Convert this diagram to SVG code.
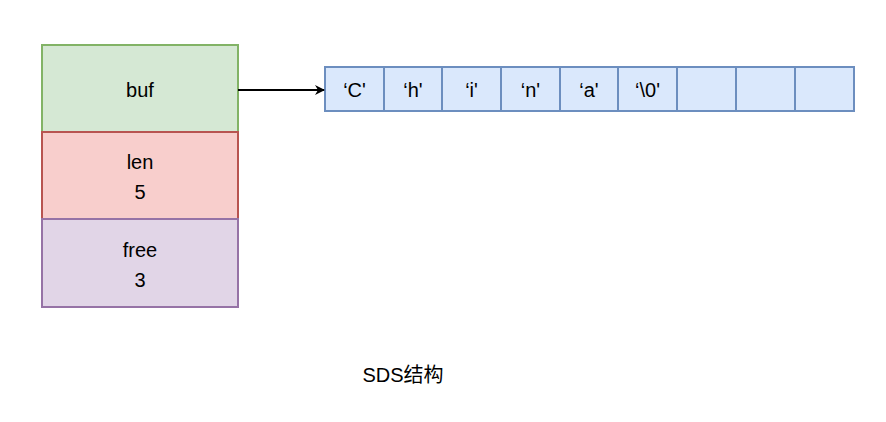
<svg xmlns="http://www.w3.org/2000/svg" width="886" height="422" viewBox="0 0 886 422">
<style>
text{font-family:"Liberation Sans","Noto Sans CJK SC",sans-serif;font-size:20px;fill:#000;text-anchor:middle}
.c{fill:#dae8fc;stroke:#6c8ebf;stroke-width:2}
</style>
<defs><marker id="a" markerWidth="10" markerHeight="10" refX="9" refY="5" orient="auto" markerUnits="userSpaceOnUse"><path d="M0,0 L10,5 L0,10 L3,5 Z" fill="#000"/></marker></defs>
<rect width="886" height="422" fill="#fff"/>
<g id="buf"><rect x="42" y="45" width="196" height="87" fill="#d5e8d4" stroke="#82b366" stroke-width="2"/><text x="140" y="97">buf</text></g>
<g id="len"><rect x="42" y="132" width="196" height="87" fill="#f8cecc" stroke="#b85450" stroke-width="2"/><text x="140" y="169">len</text><text x="140" y="199">5</text></g>
<g id="free"><rect x="42" y="219" width="196" height="88" fill="#e1d5e7" stroke="#9673a6" stroke-width="2"/><text x="140" y="257">free</text><text x="140" y="287">3</text></g>
<g id="array">
<rect class="c" x="325" y="67" width="59" height="44"/><text x="354.5" y="97">‘C'</text>
<rect class="c" x="384" y="67" width="58" height="44"/><text x="413" y="97">‘h'</text>
<rect class="c" x="442" y="67" width="59" height="44"/><text x="471.5" y="97">‘i'</text>
<rect class="c" x="501" y="67" width="59" height="44"/><text x="530.5" y="97">‘n'</text>
<rect class="c" x="560" y="67" width="58" height="44"/><text x="589" y="97">‘a'</text>
<rect class="c" x="618" y="67" width="59" height="44"/><text x="647.5" y="97">‘\0'</text>
<rect class="c" x="677" y="67" width="59" height="44"/>
<rect class="c" x="736" y="67" width="59" height="44"/>
<rect class="c" x="795" y="67" width="59" height="44"/>
</g>
<g id="connectors"><line x1="238" y1="90" x2="324" y2="90" stroke="#000" stroke-width="2" marker-end="url(#a)"/></g>
<g id="caption"><text x="403" y="382">SDS结构</text></g>
</svg>
